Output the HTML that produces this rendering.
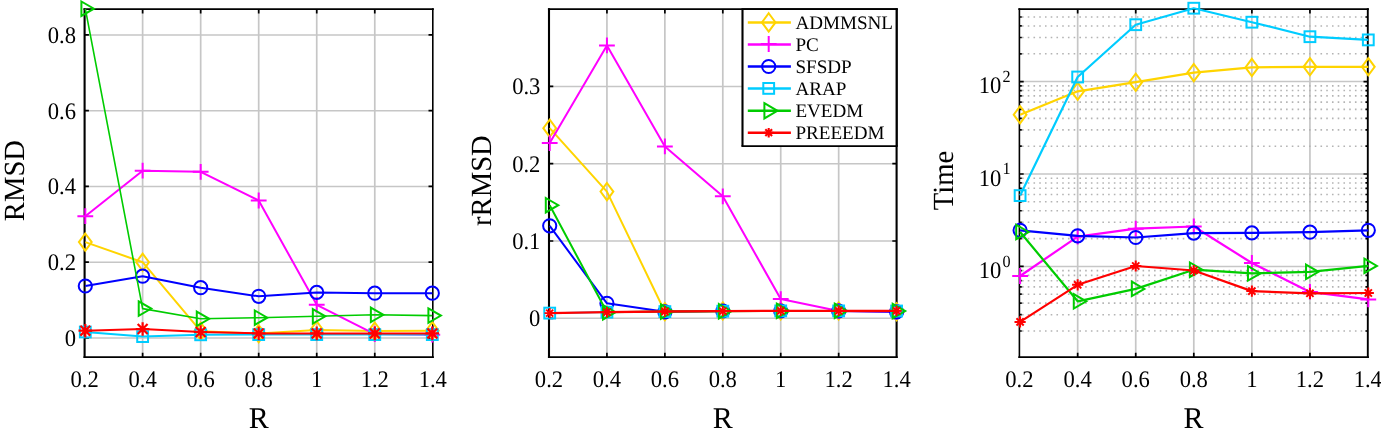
<!DOCTYPE html>
<html lang="en">
<head>
<meta charset="utf-8">
<title>RMSD / rRMSD / Time versus R</title>
<style>
html,body{margin:0;padding:0;background:#fff;}
body{width:1381px;height:437px;overflow:hidden;font-family:'Liberation Serif', serif;}
svg{display:block;}
</style>
</head>
<body>
<svg width="1381" height="437" viewBox="0 0 1381 437" font-family="'Liberation Serif', serif" fill="#000" text-rendering="geometricPrecision">
<rect width="1381" height="437" fill="#fff"/>
<path d="M142.63 9.1V357.1M200.67 9.1V357.1M258.7 9.1V357.1M316.73 9.1V357.1M374.77 9.1V357.1" stroke="#c6c6c6" stroke-width="1.7" fill="none"/>
<path d="M84.6 337.95H432.8M84.6 262.2H432.8M84.6 186.45H432.8M84.6 110.7H432.8M84.6 34.95H432.8" stroke="#c6c6c6" stroke-width="1.5" fill="none"/>
<path d="M84.6 8.25V357.95" stroke="#000" stroke-width="2.1" fill="none"/>
<path d="M432.8 8.25V357.95" stroke="#000" stroke-width="1.6" fill="none"/>
<path d="M83.55 9.1H433.85M83.55 357.1H433.85M84.6 337.95h4.3M432.8 337.95h-4.3M84.6 262.2h4.3M432.8 262.2h-4.3M84.6 186.45h4.3M432.8 186.45h-4.3M84.6 110.7h4.3M432.8 110.7h-4.3M84.6 34.95h4.3M432.8 34.95h-4.3" stroke="#000" stroke-width="1.7" fill="none"/>
<path d="M142.63 357.1v-4.3M142.63 9.1v4.3M200.67 357.1v-4.3M200.67 9.1v4.3M258.7 357.1v-4.3M258.7 9.1v4.3M316.73 357.1v-4.3M316.73 9.1v4.3M374.77 357.1v-4.3M374.77 9.1v4.3" stroke="#000" stroke-width="1.7" fill="none"/>
<polyline points="85.3,242.1 142.63,262.2 200.67,331.2 258.7,333.6 316.73,329.9 374.77,331.1 432.3,330.7" fill="none" stroke="#ffd400" stroke-width="2.0" stroke-linejoin="round"/>
<path d="M85.3 233.5L91.7 242.1L85.3 250.7L78.9 242.1Z" fill="none" stroke="#ffd400" stroke-width="2.0" stroke-linejoin="miter"/>
<path d="M142.63 253.6L149.03 262.2L142.63 270.8L136.23 262.2Z" fill="none" stroke="#ffd400" stroke-width="2.0" stroke-linejoin="miter"/>
<path d="M200.67 322.6L207.07 331.2L200.67 339.8L194.27 331.2Z" fill="none" stroke="#ffd400" stroke-width="2.0" stroke-linejoin="miter"/>
<path d="M258.7 325L265.1 333.6L258.7 342.2L252.3 333.6Z" fill="none" stroke="#ffd400" stroke-width="2.0" stroke-linejoin="miter"/>
<path d="M316.73 321.3L323.13 329.9L316.73 338.5L310.33 329.9Z" fill="none" stroke="#ffd400" stroke-width="2.0" stroke-linejoin="miter"/>
<path d="M374.77 322.5L381.17 331.1L374.77 339.7L368.37 331.1Z" fill="none" stroke="#ffd400" stroke-width="2.0" stroke-linejoin="miter"/>
<path d="M432.3 322.1L438.7 330.7L432.3 339.3L425.9 330.7Z" fill="none" stroke="#ffd400" stroke-width="2.0" stroke-linejoin="miter"/>
<polyline points="85.3,216.2 142.63,170.7 200.67,171.8 258.7,200.5 316.73,304.8 374.77,334.1 432.3,334.7" fill="none" stroke="#ff00ff" stroke-width="2.0" stroke-linejoin="round"/>
<path d="M77.4 216.2H93.2M85.3 208.3V224.1" fill="none" stroke="#ff00ff" stroke-width="2.0"/>
<path d="M134.73 170.7H150.53M142.63 162.8V178.6" fill="none" stroke="#ff00ff" stroke-width="2.0"/>
<path d="M192.77 171.8H208.57M200.67 163.9V179.7" fill="none" stroke="#ff00ff" stroke-width="2.0"/>
<path d="M250.8 200.5H266.6M258.7 192.6V208.4" fill="none" stroke="#ff00ff" stroke-width="2.0"/>
<path d="M308.83 304.8H324.63M316.73 296.9V312.7" fill="none" stroke="#ff00ff" stroke-width="2.0"/>
<path d="M366.87 334.1H382.67M374.77 326.2V342" fill="none" stroke="#ff00ff" stroke-width="2.0"/>
<path d="M424.4 334.7H440.2M432.3 326.8V342.6" fill="none" stroke="#ff00ff" stroke-width="2.0"/>
<polyline points="85.3,286 142.63,276.2 200.67,287.7 258.7,296.3 316.73,292.4 374.77,293.2 432.3,293.2" fill="none" stroke="#0000ff" stroke-width="2.0" stroke-linejoin="round"/>
<circle cx="85.3" cy="286" r="6.6" fill="none" stroke="#0000ff" stroke-width="2.0"/>
<circle cx="142.63" cy="276.2" r="6.6" fill="none" stroke="#0000ff" stroke-width="2.0"/>
<circle cx="200.67" cy="287.7" r="6.6" fill="none" stroke="#0000ff" stroke-width="2.0"/>
<circle cx="258.7" cy="296.3" r="6.6" fill="none" stroke="#0000ff" stroke-width="2.0"/>
<circle cx="316.73" cy="292.4" r="6.6" fill="none" stroke="#0000ff" stroke-width="2.0"/>
<circle cx="374.77" cy="293.2" r="6.6" fill="none" stroke="#0000ff" stroke-width="2.0"/>
<circle cx="432.3" cy="293.2" r="6.6" fill="none" stroke="#0000ff" stroke-width="2.0"/>
<polyline points="85.3,332 142.63,336.6 200.67,334.8 258.7,334.6 316.73,334.6 374.77,334.6 432.3,334.6" fill="none" stroke="#00ccff" stroke-width="2.0" stroke-linejoin="round"/>
<rect x="79.9" y="326.6" width="10.8" height="10.8" fill="none" stroke="#00ccff" stroke-width="2.0"/>
<rect x="137.23" y="331.2" width="10.8" height="10.8" fill="none" stroke="#00ccff" stroke-width="2.0"/>
<rect x="195.27" y="329.4" width="10.8" height="10.8" fill="none" stroke="#00ccff" stroke-width="2.0"/>
<rect x="253.3" y="329.2" width="10.8" height="10.8" fill="none" stroke="#00ccff" stroke-width="2.0"/>
<rect x="311.33" y="329.2" width="10.8" height="10.8" fill="none" stroke="#00ccff" stroke-width="2.0"/>
<rect x="369.37" y="329.2" width="10.8" height="10.8" fill="none" stroke="#00ccff" stroke-width="2.0"/>
<rect x="426.9" y="329.2" width="10.8" height="10.8" fill="none" stroke="#00ccff" stroke-width="2.0"/>
<polyline points="85.3,8.7 142.63,308.6 200.67,318.8 258.7,317.7 316.73,316.3 374.77,314.8 432.3,315.6" fill="none" stroke="#00cc00" stroke-width="1.6" stroke-linejoin="round"/>
<path d="M81.4 1.5L93.9 8.7L81.4 15.9Z" fill="none" stroke="#00cc00" stroke-width="2.0" stroke-linejoin="miter"/>
<path d="M138.73 301.4L151.23 308.6L138.73 315.8Z" fill="none" stroke="#00cc00" stroke-width="2.0" stroke-linejoin="miter"/>
<path d="M196.77 311.6L209.27 318.8L196.77 326Z" fill="none" stroke="#00cc00" stroke-width="2.0" stroke-linejoin="miter"/>
<path d="M254.8 310.5L267.3 317.7L254.8 324.9Z" fill="none" stroke="#00cc00" stroke-width="2.0" stroke-linejoin="miter"/>
<path d="M312.83 309.1L325.33 316.3L312.83 323.5Z" fill="none" stroke="#00cc00" stroke-width="2.0" stroke-linejoin="miter"/>
<path d="M370.87 307.6L383.37 314.8L370.87 322Z" fill="none" stroke="#00cc00" stroke-width="2.0" stroke-linejoin="miter"/>
<path d="M428.4 308.4L440.9 315.6L428.4 322.8Z" fill="none" stroke="#00cc00" stroke-width="2.0" stroke-linejoin="miter"/>
<polyline points="85.3,330.7 142.63,329 200.67,332 258.7,333.4 316.73,333.4 374.77,333.4 432.3,333.4" fill="none" stroke="#ff0000" stroke-width="2.0" stroke-linejoin="round"/>
<path d="M78.5 330.7H92.1M85.3 323.9V337.5M80.35 325.75L90.25 335.65M80.35 335.65L90.25 325.75" fill="none" stroke="#ff0000" stroke-width="2.2"/>
<path d="M135.83 329H149.43M142.63 322.2V335.8M137.68 324.05L147.58 333.95M137.68 333.95L147.58 324.05" fill="none" stroke="#ff0000" stroke-width="2.2"/>
<path d="M193.87 332H207.47M200.67 325.2V338.8M195.72 327.05L205.62 336.95M195.72 336.95L205.62 327.05" fill="none" stroke="#ff0000" stroke-width="2.2"/>
<path d="M251.9 333.4H265.5M258.7 326.6V340.2M253.75 328.45L263.65 338.35M253.75 338.35L263.65 328.45" fill="none" stroke="#ff0000" stroke-width="2.2"/>
<path d="M309.93 333.4H323.53M316.73 326.6V340.2M311.78 328.45L321.68 338.35M311.78 338.35L321.68 328.45" fill="none" stroke="#ff0000" stroke-width="2.2"/>
<path d="M367.97 333.4H381.57M374.77 326.6V340.2M369.82 328.45L379.72 338.35M369.82 338.35L379.72 328.45" fill="none" stroke="#ff0000" stroke-width="2.2"/>
<path d="M425.5 333.4H439.1M432.3 326.6V340.2M427.35 328.45L437.25 338.35M427.35 338.35L437.25 328.45" fill="none" stroke="#ff0000" stroke-width="2.2"/>
<text transform="translate(84.6 387.3) scale(0.95 1)" text-anchor="middle" font-size="23.8">0.2</text>
<text transform="translate(142.63 387.3) scale(0.95 1)" text-anchor="middle" font-size="23.8">0.4</text>
<text transform="translate(200.67 387.3) scale(0.95 1)" text-anchor="middle" font-size="23.8">0.6</text>
<text transform="translate(258.7 387.3) scale(0.95 1)" text-anchor="middle" font-size="23.8">0.8</text>
<text transform="translate(316.73 387.3) scale(0.95 1)" text-anchor="middle" font-size="23.8">1</text>
<text transform="translate(374.77 387.3) scale(0.95 1)" text-anchor="middle" font-size="23.8">1.2</text>
<text transform="translate(432.8 387.3) scale(0.95 1)" text-anchor="middle" font-size="23.8">1.4</text>
<text transform="translate(76 345.85) scale(0.95 1)" text-anchor="end" font-size="23.8">0</text>
<text transform="translate(76 270.1) scale(0.95 1)" text-anchor="end" font-size="23.8">0.2</text>
<text transform="translate(76 194.35) scale(0.95 1)" text-anchor="end" font-size="23.8">0.4</text>
<text transform="translate(76 118.6) scale(0.95 1)" text-anchor="end" font-size="23.8">0.6</text>
<text transform="translate(76 42.85) scale(0.95 1)" text-anchor="end" font-size="23.8">0.8</text>
<text x="258.7" y="427.8" text-anchor="middle" font-size="30">R</text>
<text transform="translate(24.4 180.6) rotate(-90) scale(0.955 0.975)" text-anchor="middle" font-size="30">RMSD</text>
<path d="M606.93 9.1V357.1M664.87 9.1V357.1M722.8 9.1V357.1M780.73 9.1V357.1M838.67 9.1V357.1" stroke="#c6c6c6" stroke-width="1.7" fill="none"/>
<path d="M549 318.3H896.6M549 241H896.6M549 163.7H896.6M549 86.4H896.6" stroke="#c6c6c6" stroke-width="1.5" fill="none"/>
<path d="M549 8.25V357.95" stroke="#000" stroke-width="2.1" fill="none"/>
<path d="M896.6 8.25V357.95" stroke="#000" stroke-width="2.1" fill="none"/>
<path d="M547.95 9.1H897.65M547.95 357.1H897.65M549 318.3h4.3M896.6 318.3h-4.3M549 241h4.3M896.6 241h-4.3M549 163.7h4.3M896.6 163.7h-4.3M549 86.4h4.3M896.6 86.4h-4.3" stroke="#000" stroke-width="1.7" fill="none"/>
<path d="M606.93 357.1v-4.3M606.93 9.1v4.3M664.87 357.1v-4.3M664.87 9.1v4.3M722.8 357.1v-4.3M722.8 9.1v4.3M780.73 357.1v-4.3M780.73 9.1v4.3M838.67 357.1v-4.3M838.67 9.1v4.3" stroke="#000" stroke-width="1.7" fill="none"/>
<polyline points="549.7,128.2 606.93,191.6 664.87,311.8 722.8,311 780.73,311 838.67,311 896.6,311.8" fill="none" stroke="#ffd400" stroke-width="2.0" stroke-linejoin="round"/>
<path d="M549.7 119.6L556.1 128.2L549.7 136.8L543.3 128.2Z" fill="none" stroke="#ffd400" stroke-width="2.0" stroke-linejoin="miter"/>
<path d="M606.93 183L613.33 191.6L606.93 200.2L600.53 191.6Z" fill="none" stroke="#ffd400" stroke-width="2.0" stroke-linejoin="miter"/>
<path d="M664.87 303.2L671.27 311.8L664.87 320.4L658.47 311.8Z" fill="none" stroke="#ffd400" stroke-width="2.0" stroke-linejoin="miter"/>
<path d="M722.8 302.4L729.2 311L722.8 319.6L716.4 311Z" fill="none" stroke="#ffd400" stroke-width="2.0" stroke-linejoin="miter"/>
<path d="M780.73 302.4L787.13 311L780.73 319.6L774.33 311Z" fill="none" stroke="#ffd400" stroke-width="2.0" stroke-linejoin="miter"/>
<path d="M838.67 302.4L845.07 311L838.67 319.6L832.27 311Z" fill="none" stroke="#ffd400" stroke-width="2.0" stroke-linejoin="miter"/>
<path d="M896.6 303.2L903 311.8L896.6 320.4L890.2 311.8Z" fill="none" stroke="#ffd400" stroke-width="2.0" stroke-linejoin="miter"/>
<polyline points="549.7,143.1 606.93,45.4 664.87,146.4 722.8,196.3 780.73,299.1 838.67,311 896.6,311.8" fill="none" stroke="#ff00ff" stroke-width="2.0" stroke-linejoin="round"/>
<path d="M541.8 143.1H557.6M549.7 135.2V151" fill="none" stroke="#ff00ff" stroke-width="2.0"/>
<path d="M599.03 45.4H614.83M606.93 37.5V53.3" fill="none" stroke="#ff00ff" stroke-width="2.0"/>
<path d="M656.97 146.4H672.77M664.87 138.5V154.3" fill="none" stroke="#ff00ff" stroke-width="2.0"/>
<path d="M714.9 196.3H730.7M722.8 188.4V204.2" fill="none" stroke="#ff00ff" stroke-width="2.0"/>
<path d="M772.83 299.1H788.63M780.73 291.2V307" fill="none" stroke="#ff00ff" stroke-width="2.0"/>
<path d="M830.77 311H846.57M838.67 303.1V318.9" fill="none" stroke="#ff00ff" stroke-width="2.0"/>
<path d="M888.7 311.8H904.5M896.6 303.9V319.7" fill="none" stroke="#ff00ff" stroke-width="2.0"/>
<polyline points="549.7,225.8 606.93,303.3 664.87,311.8 722.8,311 780.73,311 838.67,311 896.6,311.8" fill="none" stroke="#0000ff" stroke-width="2.0" stroke-linejoin="round"/>
<circle cx="549.7" cy="225.8" r="6.6" fill="none" stroke="#0000ff" stroke-width="2.0"/>
<circle cx="606.93" cy="303.3" r="6.6" fill="none" stroke="#0000ff" stroke-width="2.0"/>
<circle cx="664.87" cy="311.8" r="6.6" fill="none" stroke="#0000ff" stroke-width="2.0"/>
<circle cx="722.8" cy="311" r="6.6" fill="none" stroke="#0000ff" stroke-width="2.0"/>
<circle cx="780.73" cy="311" r="6.6" fill="none" stroke="#0000ff" stroke-width="2.0"/>
<circle cx="838.67" cy="311" r="6.6" fill="none" stroke="#0000ff" stroke-width="2.0"/>
<circle cx="896.6" cy="311.8" r="6.6" fill="none" stroke="#0000ff" stroke-width="2.0"/>
<polyline points="549.7,313.1 606.93,312.2 664.87,311.6 722.8,311.2 780.73,310.9 838.67,310.9 896.6,311" fill="none" stroke="#00ccff" stroke-width="1.8" stroke-linejoin="round"/>
<rect x="544.3" y="307.7" width="10.8" height="10.8" fill="none" stroke="#00ccff" stroke-width="2.0"/>
<rect x="601.53" y="306.8" width="10.8" height="10.8" fill="none" stroke="#00ccff" stroke-width="2.0"/>
<rect x="659.47" y="306.2" width="10.8" height="10.8" fill="none" stroke="#00ccff" stroke-width="2.0"/>
<rect x="717.4" y="305.8" width="10.8" height="10.8" fill="none" stroke="#00ccff" stroke-width="2.0"/>
<rect x="775.33" y="305.5" width="10.8" height="10.8" fill="none" stroke="#00ccff" stroke-width="2.0"/>
<rect x="833.27" y="305.5" width="10.8" height="10.8" fill="none" stroke="#00ccff" stroke-width="2.0"/>
<rect x="891.2" y="305.6" width="10.8" height="10.8" fill="none" stroke="#00ccff" stroke-width="2.0"/>
<polyline points="549.7,205.2 606.93,312.2 664.87,311.6 722.8,311.2 780.73,310.9 838.67,310.9 896.6,311" fill="none" stroke="#00cc00" stroke-width="2.0" stroke-linejoin="round"/>
<path d="M545.8 198L558.3 205.2L545.8 212.4Z" fill="none" stroke="#00cc00" stroke-width="2.0" stroke-linejoin="miter"/>
<path d="M603.03 305L615.53 312.2L603.03 319.4Z" fill="none" stroke="#00cc00" stroke-width="2.0" stroke-linejoin="miter"/>
<path d="M660.97 304.4L673.47 311.6L660.97 318.8Z" fill="none" stroke="#00cc00" stroke-width="2.0" stroke-linejoin="miter"/>
<path d="M718.9 304L731.4 311.2L718.9 318.4Z" fill="none" stroke="#00cc00" stroke-width="2.0" stroke-linejoin="miter"/>
<path d="M776.83 303.7L789.33 310.9L776.83 318.1Z" fill="none" stroke="#00cc00" stroke-width="2.0" stroke-linejoin="miter"/>
<path d="M834.77 303.7L847.27 310.9L834.77 318.1Z" fill="none" stroke="#00cc00" stroke-width="2.0" stroke-linejoin="miter"/>
<path d="M892.7 303.8L905.2 311L892.7 318.2Z" fill="none" stroke="#00cc00" stroke-width="2.0" stroke-linejoin="miter"/>
<polyline points="549.7,313.1 606.93,312.2 664.87,311.5 722.8,311.1 780.73,310.8 838.67,310.8 896.6,310.9" fill="none" stroke="#ff0000" stroke-width="2.3" stroke-linejoin="round"/>
<path d="M544.5 313.1H554.9M549.7 307.9V318.3M546.16 309.56L553.24 316.64M546.16 316.64L553.24 309.56" fill="none" stroke="#ff0000" stroke-width="1.9"/>
<path d="M601.73 312.2H612.13M606.93 307V317.4M603.4 308.66L610.47 315.74M603.4 315.74L610.47 308.66" fill="none" stroke="#ff0000" stroke-width="1.9"/>
<path d="M659.67 311.5H670.07M664.87 306.3V316.7M661.33 307.96L668.4 315.04M661.33 315.04L668.4 307.96" fill="none" stroke="#ff0000" stroke-width="1.9"/>
<path d="M717.6 311.1H728M722.8 305.9V316.3M719.26 307.56L726.34 314.64M719.26 314.64L726.34 307.56" fill="none" stroke="#ff0000" stroke-width="1.9"/>
<path d="M775.53 310.8H785.93M780.73 305.6V316M777.2 307.26L784.27 314.34M777.2 314.34L784.27 307.26" fill="none" stroke="#ff0000" stroke-width="1.9"/>
<path d="M833.47 310.8H843.87M838.67 305.6V316M835.13 307.26L842.2 314.34M835.13 314.34L842.2 307.26" fill="none" stroke="#ff0000" stroke-width="1.9"/>
<path d="M891.4 310.9H901.8M896.6 305.7V316.1M893.06 307.36L900.14 314.44M893.06 314.44L900.14 307.36" fill="none" stroke="#ff0000" stroke-width="1.9"/>
<text transform="translate(549 387.3) scale(0.95 1)" text-anchor="middle" font-size="23.8">0.2</text>
<text transform="translate(606.93 387.3) scale(0.95 1)" text-anchor="middle" font-size="23.8">0.4</text>
<text transform="translate(664.87 387.3) scale(0.95 1)" text-anchor="middle" font-size="23.8">0.6</text>
<text transform="translate(722.8 387.3) scale(0.95 1)" text-anchor="middle" font-size="23.8">0.8</text>
<text transform="translate(780.73 387.3) scale(0.95 1)" text-anchor="middle" font-size="23.8">1</text>
<text transform="translate(838.67 387.3) scale(0.95 1)" text-anchor="middle" font-size="23.8">1.2</text>
<text transform="translate(896.6 387.3) scale(0.95 1)" text-anchor="middle" font-size="23.8">1.4</text>
<text transform="translate(540.4 326.2) scale(0.95 1)" text-anchor="end" font-size="23.8">0</text>
<text transform="translate(540.4 248.9) scale(0.95 1)" text-anchor="end" font-size="23.8">0.1</text>
<text transform="translate(540.4 171.6) scale(0.95 1)" text-anchor="end" font-size="23.8">0.2</text>
<text transform="translate(540.4 94.3) scale(0.95 1)" text-anchor="end" font-size="23.8">0.3</text>
<text x="722.8" y="427.8" text-anchor="middle" font-size="30">R</text>
<text transform="translate(491.4 180.6) rotate(-90) scale(0.955 0.975)" text-anchor="middle" font-size="30">rRMSD</text>
<rect x="742.5" y="9.1" width="154.1" height="137.1" fill="#fff"/>
<path d="M741.45 9.1H897.65M741.45 146.2H897.65" stroke="#000" stroke-width="1.7" fill="none"/>
<path d="M742.5 9.1V146.2M896.6 9.1V146.2" stroke="#000" stroke-width="2.1" fill="none"/>
<path d="M747.8 22.45H790.9" stroke="#ffd400" stroke-width="2.5" fill="none"/>
<path d="M768.7 13.25L775.5 22.45L768.7 31.65L761.9 22.45Z" fill="none" stroke="#ffd400" stroke-width="2.0" stroke-linejoin="miter"/>
<text x="795.4" y="28.75" font-size="19.1">ADMMSNL</text>
<path d="M747.8 44.4H790.9" stroke="#ff00ff" stroke-width="2.5" fill="none"/>
<path d="M760.8 44H776.6M768.7 36.1V51.9" fill="none" stroke="#ff00ff" stroke-width="2.0"/>
<text x="795.4" y="50.7" font-size="19.1">PC</text>
<path d="M747.8 66.5H790.9" stroke="#0000ff" stroke-width="2.5" fill="none"/>
<circle cx="768.7" cy="66.5" r="6.6" fill="none" stroke="#0000ff" stroke-width="2.0"/>
<text x="795.4" y="72.8" font-size="19.1">SFSDP</text>
<path d="M747.8 88.4H790.9" stroke="#00ccff" stroke-width="2.5" fill="none"/>
<rect x="763.3" y="83" width="10.8" height="10.8" fill="none" stroke="#00ccff" stroke-width="2.0"/>
<text x="795.4" y="94.7" font-size="19.1">ARAP</text>
<path d="M747.8 110.8H790.9" stroke="#00cc00" stroke-width="2.5" fill="none"/>
<path d="M764.4 103.2L777.4 110.8L764.4 118.4Z" fill="none" stroke="#00cc00" stroke-width="2.0" stroke-linejoin="miter"/>
<text x="795.4" y="117.1" font-size="19.1">EVEDM</text>
<path d="M747.8 132.7H790.9" stroke="#ff0000" stroke-width="2.5" fill="none"/>
<path d="M763.9 132.7H773.5M768.7 127.9V137.5M765.31 129.31L772.09 136.09M765.31 136.09L772.09 129.31" fill="none" stroke="#ff0000" stroke-width="2.1"/>
<text x="795.4" y="139" font-size="19.1">PREEEDM</text>
<path d="M1077.67 9.1V357.1M1135.73 9.1V357.1M1193.8 9.1V357.1M1251.87 9.1V357.1M1309.93 9.1V357.1" stroke="#c6c6c6" stroke-width="1.7" fill="none"/>
<path d="M1019.4 266.4H1367.8M1019.4 174H1367.8M1019.4 81.6H1367.8" stroke="#c6c6c6" stroke-width="1.5" fill="none"/>
<path d="M1022 330.98H1367.8M1022 314.71H1367.8M1022 303.17H1367.8M1022 294.22H1367.8M1022 286.9H1367.8M1022 280.71H1367.8M1022 275.35H1367.8M1022 270.63H1367.8M1022 238.58H1367.8M1022 222.31H1367.8M1022 210.77H1367.8M1022 201.82H1367.8M1022 194.5H1367.8M1022 188.31H1367.8M1022 182.95H1367.8M1022 178.23H1367.8M1022 146.18H1367.8M1022 129.91H1367.8M1022 118.37H1367.8M1022 109.42H1367.8M1022 102.1H1367.8M1022 95.91H1367.8M1022 90.55H1367.8M1022 85.83H1367.8M1022 53.78H1367.8M1022 37.51H1367.8M1022 25.97H1367.8M1022 17.02H1367.8" stroke="#b4b4b4" stroke-width="1.6" stroke-dasharray="1.6 4.14" fill="none"/>
<path d="M1019.4 8.25V357.95" stroke="#000" stroke-width="1.6" fill="none"/>
<path d="M1367.8 8.25V357.95" stroke="#000" stroke-width="1.9" fill="none"/>
<path d="M1018.35 9.1H1368.85M1018.35 357.1H1368.85M1019.4 266.4h4.3M1367.8 266.4h-4.3M1019.4 174h4.3M1367.8 174h-4.3M1019.4 81.6h4.3M1367.8 81.6h-4.3M1019.4 330.98h2.4M1367.8 330.98h-2.4M1019.4 314.71h2.4M1367.8 314.71h-2.4M1019.4 303.17h2.4M1367.8 303.17h-2.4M1019.4 294.22h2.4M1367.8 294.22h-2.4M1019.4 286.9h2.4M1367.8 286.9h-2.4M1019.4 280.71h2.4M1367.8 280.71h-2.4M1019.4 275.35h2.4M1367.8 275.35h-2.4M1019.4 270.63h2.4M1367.8 270.63h-2.4M1019.4 238.58h2.4M1367.8 238.58h-2.4M1019.4 222.31h2.4M1367.8 222.31h-2.4M1019.4 210.77h2.4M1367.8 210.77h-2.4M1019.4 201.82h2.4M1367.8 201.82h-2.4M1019.4 194.5h2.4M1367.8 194.5h-2.4M1019.4 188.31h2.4M1367.8 188.31h-2.4M1019.4 182.95h2.4M1367.8 182.95h-2.4M1019.4 178.23h2.4M1367.8 178.23h-2.4M1019.4 146.18h2.4M1367.8 146.18h-2.4M1019.4 129.91h2.4M1367.8 129.91h-2.4M1019.4 118.37h2.4M1367.8 118.37h-2.4M1019.4 109.42h2.4M1367.8 109.42h-2.4M1019.4 102.1h2.4M1367.8 102.1h-2.4M1019.4 95.91h2.4M1367.8 95.91h-2.4M1019.4 90.55h2.4M1367.8 90.55h-2.4M1019.4 85.83h2.4M1367.8 85.83h-2.4M1019.4 53.78h2.4M1367.8 53.78h-2.4M1019.4 37.51h2.4M1367.8 37.51h-2.4M1019.4 25.97h2.4M1367.8 25.97h-2.4M1019.4 17.02h2.4M1367.8 17.02h-2.4" stroke="#000" stroke-width="1.7" fill="none"/>
<path d="M1077.67 357.1v-4.3M1077.67 9.1v4.3M1135.73 357.1v-4.3M1135.73 9.1v4.3M1193.8 357.1v-4.3M1193.8 9.1v4.3M1251.87 357.1v-4.3M1251.87 9.1v4.3M1309.93 357.1v-4.3M1309.93 9.1v4.3" stroke="#000" stroke-width="1.7" fill="none"/>
<polyline points="1020.1,114.7 1077.67,91.3 1135.73,82.2 1193.8,72.6 1251.87,67.4 1309.93,66.8 1368.3,66.8" fill="none" stroke="#ffd400" stroke-width="2.2" stroke-linejoin="round"/>
<path d="M1020.1 106.1L1026.5 114.7L1020.1 123.3L1013.7 114.7Z" fill="none" stroke="#ffd400" stroke-width="2.0" stroke-linejoin="miter"/>
<path d="M1077.67 82.7L1084.07 91.3L1077.67 99.9L1071.27 91.3Z" fill="none" stroke="#ffd400" stroke-width="2.0" stroke-linejoin="miter"/>
<path d="M1135.73 73.6L1142.13 82.2L1135.73 90.8L1129.33 82.2Z" fill="none" stroke="#ffd400" stroke-width="2.0" stroke-linejoin="miter"/>
<path d="M1193.8 64L1200.2 72.6L1193.8 81.2L1187.4 72.6Z" fill="none" stroke="#ffd400" stroke-width="2.0" stroke-linejoin="miter"/>
<path d="M1251.87 58.8L1258.27 67.4L1251.87 76L1245.47 67.4Z" fill="none" stroke="#ffd400" stroke-width="2.0" stroke-linejoin="miter"/>
<path d="M1309.93 58.2L1316.33 66.8L1309.93 75.4L1303.53 66.8Z" fill="none" stroke="#ffd400" stroke-width="2.0" stroke-linejoin="miter"/>
<path d="M1368.3 58.2L1374.7 66.8L1368.3 75.4L1361.9 66.8Z" fill="none" stroke="#ffd400" stroke-width="2.0" stroke-linejoin="miter"/>
<polyline points="1020.1,276 1077.67,236.6 1135.73,228.7 1193.8,226.5 1251.87,263 1309.93,291.9 1368.3,299.4" fill="none" stroke="#ff00ff" stroke-width="2.2" stroke-linejoin="round"/>
<path d="M1012.2 276H1028M1020.1 268.1V283.9" fill="none" stroke="#ff00ff" stroke-width="2.0"/>
<path d="M1069.77 236.6H1085.57M1077.67 228.7V244.5" fill="none" stroke="#ff00ff" stroke-width="2.0"/>
<path d="M1127.83 228.7H1143.63M1135.73 220.8V236.6" fill="none" stroke="#ff00ff" stroke-width="2.0"/>
<path d="M1185.9 226.5H1201.7M1193.8 218.6V234.4" fill="none" stroke="#ff00ff" stroke-width="2.0"/>
<path d="M1243.97 263H1259.77M1251.87 255.1V270.9" fill="none" stroke="#ff00ff" stroke-width="2.0"/>
<path d="M1302.03 291.9H1317.83M1309.93 284V299.8" fill="none" stroke="#ff00ff" stroke-width="2.0"/>
<path d="M1360.4 299.4H1376.2M1368.3 291.5V307.3" fill="none" stroke="#ff00ff" stroke-width="2.0"/>
<polyline points="1020.1,230.3 1077.67,235.8 1135.73,237.5 1193.8,233.1 1251.87,232.9 1309.93,232.2 1368.3,230.3" fill="none" stroke="#0000ff" stroke-width="2.2" stroke-linejoin="round"/>
<circle cx="1020.1" cy="230.3" r="6.6" fill="none" stroke="#0000ff" stroke-width="2.0"/>
<circle cx="1077.67" cy="235.8" r="6.6" fill="none" stroke="#0000ff" stroke-width="2.0"/>
<circle cx="1135.73" cy="237.5" r="6.6" fill="none" stroke="#0000ff" stroke-width="2.0"/>
<circle cx="1193.8" cy="233.1" r="6.6" fill="none" stroke="#0000ff" stroke-width="2.0"/>
<circle cx="1251.87" cy="232.9" r="6.6" fill="none" stroke="#0000ff" stroke-width="2.0"/>
<circle cx="1309.93" cy="232.2" r="6.6" fill="none" stroke="#0000ff" stroke-width="2.0"/>
<circle cx="1368.3" cy="230.3" r="6.6" fill="none" stroke="#0000ff" stroke-width="2.0"/>
<polyline points="1020.1,195.6 1077.67,77 1135.73,24.7 1193.8,8.2 1251.87,22.2 1309.93,36.7 1368.3,39.9" fill="none" stroke="#00ccff" stroke-width="2.2" stroke-linejoin="round"/>
<rect x="1014.7" y="190.2" width="10.8" height="10.8" fill="none" stroke="#00ccff" stroke-width="2.0"/>
<rect x="1072.27" y="71.6" width="10.8" height="10.8" fill="none" stroke="#00ccff" stroke-width="2.0"/>
<rect x="1130.33" y="19.3" width="10.8" height="10.8" fill="none" stroke="#00ccff" stroke-width="2.0"/>
<rect x="1188.4" y="2.8" width="10.8" height="10.8" fill="none" stroke="#00ccff" stroke-width="2.0"/>
<rect x="1246.47" y="16.8" width="10.8" height="10.8" fill="none" stroke="#00ccff" stroke-width="2.0"/>
<rect x="1304.53" y="31.3" width="10.8" height="10.8" fill="none" stroke="#00ccff" stroke-width="2.0"/>
<rect x="1362.9" y="34.5" width="10.8" height="10.8" fill="none" stroke="#00ccff" stroke-width="2.0"/>
<polyline points="1020.1,232 1077.67,301.3 1135.73,288.9 1193.8,269.7 1251.87,273.4 1309.93,271.8 1368.3,265.9" fill="none" stroke="#00cc00" stroke-width="2.2" stroke-linejoin="round"/>
<path d="M1016.2 224.8L1028.7 232L1016.2 239.2Z" fill="none" stroke="#00cc00" stroke-width="2.0" stroke-linejoin="miter"/>
<path d="M1073.77 294.1L1086.27 301.3L1073.77 308.5Z" fill="none" stroke="#00cc00" stroke-width="2.0" stroke-linejoin="miter"/>
<path d="M1131.83 281.7L1144.33 288.9L1131.83 296.1Z" fill="none" stroke="#00cc00" stroke-width="2.0" stroke-linejoin="miter"/>
<path d="M1189.9 262.5L1202.4 269.7L1189.9 276.9Z" fill="none" stroke="#00cc00" stroke-width="2.0" stroke-linejoin="miter"/>
<path d="M1247.97 266.2L1260.47 273.4L1247.97 280.6Z" fill="none" stroke="#00cc00" stroke-width="2.0" stroke-linejoin="miter"/>
<path d="M1306.03 264.6L1318.53 271.8L1306.03 279Z" fill="none" stroke="#00cc00" stroke-width="2.0" stroke-linejoin="miter"/>
<path d="M1364.4 258.7L1376.9 265.9L1364.4 273.1Z" fill="none" stroke="#00cc00" stroke-width="2.0" stroke-linejoin="miter"/>
<polyline points="1020.1,321.9 1077.67,284.8 1135.73,266 1193.8,270.5 1251.87,291.1 1309.93,293.3 1368.3,293" fill="none" stroke="#ff0000" stroke-width="2.2" stroke-linejoin="round"/>
<path d="M1014.5 321.9H1025.7M1020.1 316.3V327.5M1016.49 318.29L1023.71 325.51M1016.49 325.51L1023.71 318.29" fill="none" stroke="#ff0000" stroke-width="2.0"/>
<path d="M1072.07 284.8H1083.27M1077.67 279.2V290.4M1074.06 281.19L1081.27 288.41M1074.06 288.41L1081.27 281.19" fill="none" stroke="#ff0000" stroke-width="2.0"/>
<path d="M1130.13 266H1141.33M1135.73 260.4V271.6M1132.13 262.39L1139.34 269.61M1132.13 269.61L1139.34 262.39" fill="none" stroke="#ff0000" stroke-width="2.0"/>
<path d="M1188.2 270.5H1199.4M1193.8 264.9V276.1M1190.19 266.89L1197.41 274.11M1190.19 274.11L1197.41 266.89" fill="none" stroke="#ff0000" stroke-width="2.0"/>
<path d="M1246.27 291.1H1257.47M1251.87 285.5V296.7M1248.26 287.49L1255.47 294.71M1248.26 294.71L1255.47 287.49" fill="none" stroke="#ff0000" stroke-width="2.0"/>
<path d="M1304.33 293.3H1315.53M1309.93 287.7V298.9M1306.33 289.69L1313.54 296.91M1306.33 296.91L1313.54 289.69" fill="none" stroke="#ff0000" stroke-width="2.0"/>
<path d="M1362.7 293H1373.9M1368.3 287.4V298.6M1364.69 289.39L1371.91 296.61M1364.69 296.61L1371.91 289.39" fill="none" stroke="#ff0000" stroke-width="2.0"/>
<text transform="translate(1019.4 387.3) scale(0.95 1)" text-anchor="middle" font-size="23.8">0.2</text>
<text transform="translate(1077.67 387.3) scale(0.95 1)" text-anchor="middle" font-size="23.8">0.4</text>
<text transform="translate(1135.73 387.3) scale(0.95 1)" text-anchor="middle" font-size="23.8">0.6</text>
<text transform="translate(1193.8 387.3) scale(0.95 1)" text-anchor="middle" font-size="23.8">0.8</text>
<text transform="translate(1251.87 387.3) scale(0.95 1)" text-anchor="middle" font-size="23.8">1</text>
<text transform="translate(1309.93 387.3) scale(0.95 1)" text-anchor="middle" font-size="23.8">1.2</text>
<text transform="translate(1367.8 387.3) scale(0.95 1)" text-anchor="middle" font-size="23.8">1.4</text>
<text transform="translate(1010.5 277.9) scale(0.95 1)" text-anchor="end" font-size="23.8">10<tspan dx="1.2" dy="-11.4" font-size="17.0">0</tspan></text>
<text transform="translate(1010.5 185.5) scale(0.95 1)" text-anchor="end" font-size="23.8">10<tspan dx="1.2" dy="-11.4" font-size="17.0">1</tspan></text>
<text transform="translate(1010.5 93.1) scale(0.95 1)" text-anchor="end" font-size="23.8">10<tspan dx="1.2" dy="-11.4" font-size="17.0">2</tspan></text>
<text x="1193.6" y="427.8" text-anchor="middle" font-size="30">R</text>
<text transform="translate(953 180.6) rotate(-90) scale(0.955 0.975)" text-anchor="middle" font-size="30">Time</text>
</svg>
</body>
</html>
